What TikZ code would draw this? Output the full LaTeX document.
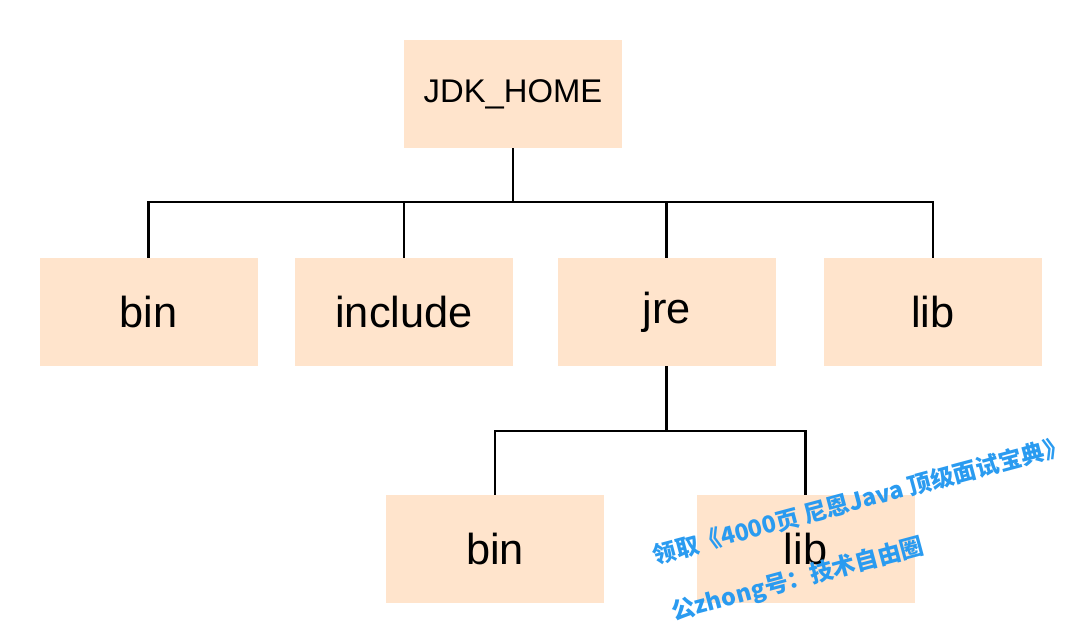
\documentclass[tikz,border=0pt]{standalone}
\usepackage{fontspec}
\setmainfont{Liberation Sans}
\newfontfamily\cjk{Noto Sans CJK SC}
\definecolor{boxfill}{HTML}{FFE4CC}
\definecolor{wm}{HTML}{2A9BF0}
\begin{document}
\begin{tikzpicture}[x=0.03cm,y=-0.03cm,
  dirbox/.style={fill=boxfill,draw=none,minimum width=218*0.03cm,minimum height=108*0.03cm,inner sep=0pt,font=\fontsize{37}{40}\selectfont},
  link/.style={line width=1.8pt,line join=miter},
  wmark/.style={text=wm,font=\cjk\bfseries\fontsize{20}{22}\selectfont,rotate=15}]
\useasboundingbox (0,0) rectangle (1080,642);
\node[dirbox,font=\fontsize{28}{30}\selectfont] (root) at (513,94) {JDK\_HOME};
\node[dirbox] (bin) at (148.5,312) {bin};
\node[dirbox] (inc) at (404,312) {include};
\node[dirbox] (jre) at (666.5,312) {jre};
\node[dirbox] (lib) at (933,312) {lib};
\node[dirbox] (jbin) at (495,549) {bin};
\node[dirbox] (jlib) at (805.5,549) {lib};
\draw[link] (root.south) -- ++(0,54) coordinate (h1);
\draw[link] (bin.north) |- (h1) -| (lib.north);
\draw[link] (inc.north) -- (inc.north |- h1);
\draw[link] (jre.north) -- (jre.north |- h1);
\draw[link] (jre.south) -- ++(0,65) coordinate (h2);
\draw[link] (jbin.north) |- (h2) -| (jlib.north);
\node[wmark] (w1) at (860,500) {领取《4000页 尼恩Java 顶级面试宝典》};
\node[wmark] (w2) at (798,580) {公zhong号：技术自由圈};
\end{tikzpicture}
\end{document}
